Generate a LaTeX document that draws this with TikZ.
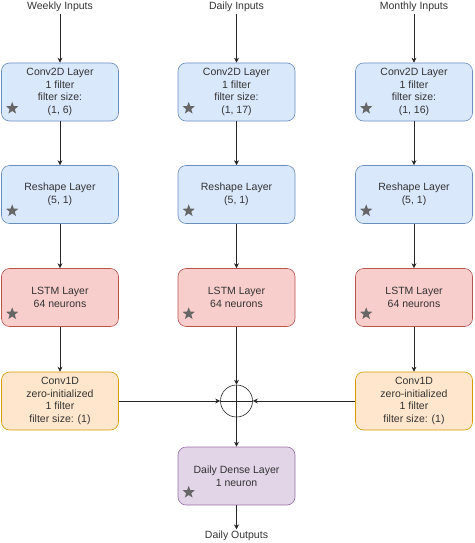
\documentclass[tikz,border=0pt]{standalone}
\usepackage{fontspec}
\setmainfont{Liberation Sans}
\usetikzlibrary{shapes.geometric,arrows.meta,calc}
\definecolor{bluef}{HTML}{DAE8FC}\definecolor{blued}{HTML}{6C8EBF}
\definecolor{redf}{HTML}{F8CECC}\definecolor{redd}{HTML}{B85450}
\definecolor{orf}{HTML}{FFE6CC}\definecolor{ord}{HTML}{D79B00}
\definecolor{puf}{HTML}{E1D5E7}\definecolor{pud}{HTML}{9673A6}
\definecolor{txt}{HTML}{333333}
\definecolor{stargray}{HTML}{666666}
\begin{document}
\begin{tikzpicture}[x=1pt,y=-1pt,
  box/.style={rounded corners=8pt, minimum width=117pt, minimum height=58pt, align=center,
    font=\fontsize{10.5}{12.6}\selectfont, text=txt, line width=0.6pt, inner sep=2pt},
  bluebox/.style={box, fill=bluef, draw=blued},
  redbox/.style={box, fill=redf, draw=redd},
  orbox/.style={box, fill=orf, draw=ord},
  pubox/.style={box, fill=puf, draw=pud},
  lbl/.style={font=\fontsize{10.5}{12.6}\selectfont, text=txt, inner sep=1.5pt},
  starmark/.style={star, star points=5, star point ratio=2.4, fill=stargray, draw=none, minimum size=13pt, inner sep=0pt},
  arr/.style={-{Stealth[length=5pt,width=5pt]}, line width=0.6pt, draw=black!85},
  ln/.style={line width=0.6pt, draw=black!85}
]
\useasboundingbox (0,0) rectangle (474,543);

% labels
\node[lbl] (wl) at (60,7) {Weekly Inputs};
\node[lbl] (dl) at (236.5,7) {Daily Inputs};
\node[lbl] (ml) at (414,7) {Monthly Inputs};

% conv2d
\node[bluebox] (w1) at (60,92) {Conv2D Layer\\1 filter\\filter size:\\(1, 6)};
\node[bluebox] (d1) at (236.5,92) {Conv2D Layer\\1 filter\\filter size:\\(1, 17)};
\node[bluebox] (m1) at (414,92) {Conv2D Layer\\1 filter\\filter size:\\(1, 16)};
% reshape
\node[bluebox] (w2) at (60,194.5) {Reshape Layer\\(5, 1)};
\node[bluebox] (d2) at (236.5,194.5) {Reshape Layer\\(5, 1)};
\node[bluebox] (m2) at (414,194.5) {Reshape Layer\\(5, 1)};
% lstm
\node[redbox] (w3) at (60,297.5) {LSTM Layer\\64 neurons};
\node[redbox] (d3) at (236.5,297.5) {LSTM Layer\\64 neurons};
\node[redbox] (m3) at (414,297.5) {LSTM Layer\\64 neurons};
% conv1d
\node[orbox] (w4) at (60,401) {Conv1D\\zero-initialized\\1 filter\\filter size: (1)};
\node[orbox] (m4) at (414,401) {Conv1D\\zero-initialized\\1 filter\\filter size: (1)};
% sum
\node[circle, draw=black!85, line width=0.6pt, minimum size=32pt, inner sep=0pt] (plus) at (236.5,401) {};
\draw[ln] (plus.north) -- (plus.south);
\draw[ln] (plus.west) -- (plus.east);
% dense
\node[pubox] (dd) at (236.5,476) {Daily Dense Layer\\1 neuron};
\node[lbl] (out) at (236.5,536) {Daily Outputs};

% stars
\foreach \n in {w1,d1,m1,w2,d2,m2,w3,d3,m3,dd}{
  \node[starmark] at ($(\n.south west)+(11,-13)$) {};
}

% connectors
\draw[arr] (wl) -- (w1);
\draw[arr] (dl) -- (d1);
\draw[arr] (ml) -- (m1);
\draw[arr] (w1) -- (w2);
\draw[arr] (d1) -- (d2);
\draw[arr] (m1) -- (m2);
\draw[arr] (w2) -- (w3);
\draw[arr] (d2) -- (d3);
\draw[arr] (m2) -- (m3);
\draw[arr] (w3) -- (w4);
\draw[arr] (m3) -- (m4);
\draw[arr] (d3) -- (plus);
\draw[arr] (w4) -- (plus);
\draw[arr] (m4) -- (plus);
\draw[arr] (plus) -- (dd);
\draw[arr] (dd) -- (out);
\end{tikzpicture}
\end{document}
